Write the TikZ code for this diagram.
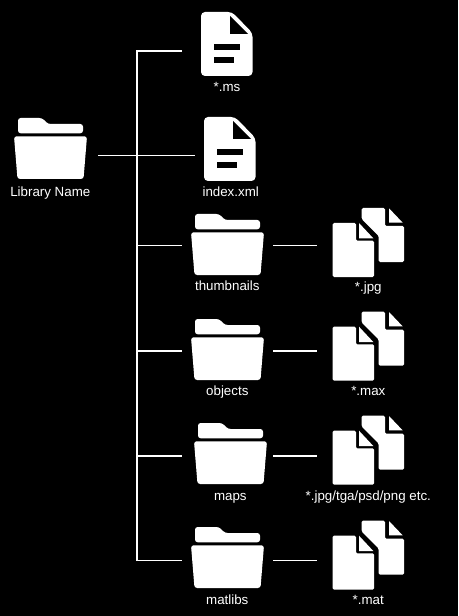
\documentclass[tikz,border=0pt]{standalone}
\usepackage{fontspec}
\setmainfont{Liberation Sans}
\tikzset{
  wire/.style={draw=white, line width=0.9pt},
  iconbox/.style={inner sep=0pt, minimum height=1pt, minimum width=#1*0.75pt},
  filetext/.style={text=white, anchor=base, inner sep=0pt, font=\fontsize{10}{12}\selectfont},
  folderpic/.pic={
    \fill[white, rounded corners=2pt] (4,15.3) -- (4,0) -- (28,0) -- (34,6) -- (69,6) -- (69,15.3) -- cycle;
    \fill[white, rounded corners=2pt] (0,18.3) -- (73,18.3) -- (69.5,61) -- (3.5,61) -- cycle;
  },
  docpic/.pic={
    \fill[white, rounded corners=3pt] (0,0) -- (31,0) -- (51.5,21) -- (51.5,64) -- (0,64) -- cycle;
    \fill[black] (29,4) -- (47,22) -- (29,22) -- cycle;
    \fill[black] (13,32) rectangle (39,38.5);
    \fill[black] (13,45) rectangle (32.5,51);
  },
  docspic/.pic={
    % back sheet
    \fill[white, rounded corners=1pt] (29,-15) -- (52.3,-15) -- (52.3,3) -- (71.3,3) -- (71.3,39) -- (46,39) -- (46,13) -- (29,-4) -- cycle;
    \fill[white] (56.3,-14.7) -- (70,-0.3) -- (56.3,-0.3) -- cycle;
    % front sheet
    \fill[white, rounded corners=1pt] (0,0) -- (23.3,0) -- (23.3,17.7) -- (41.3,17.7) -- (41.3,54) -- (0,54) -- cycle;
    \fill[white] (26.3,0) -- (40.6,15.3) -- (26.3,15.3) -- cycle;
  },
}

\begin{document}
\begin{tikzpicture}[x=0.75pt, y=-0.75pt]

% Background
\fill[black] (0,0) rectangle (458,616);
\useasboundingbox (0,0) rectangle (458,616);

% Root folder and files
\pic at (14,118) {folderpic};
\pic at (201,12) {docpic};
\pic at (204,117) {docpic};
\node[iconbox=95] (library) at (50.5,155.5) {};
\node[iconbox=89] (msfile) at (226.5,51) {};
\node[iconbox=61] (indexfile) at (225.5,155.5) {};
\node[filetext] (librarytext) at (50.3,196.5) {Library Name};
\node[filetext] (mstext) at (227,91.5) {*.ms};
\node[filetext] (indextext) at (230.7,196.7) {index.xml};

% Sub folders
\pic at (191,214) {folderpic};
\pic at (191,319) {folderpic};
\pic at (194,423) {folderpic};
\pic at (191,527) {folderpic};
\node[iconbox=91] (thumbnails) at (227.5,245.5) {};
\node[iconbox=91] (objects) at (227.5,351) {};
\node[iconbox=91] (maps) at (227.5,456) {};
\node[iconbox=91] (matlibs) at (227.5,560.7) {};
\node[filetext] (thumbnailstext) at (227.3,290.7) {thumbnails};
\node[filetext] (objectstext) at (227.3,395) {objects};
\node[filetext] (mapstext) at (230.3,500) {maps};
\node[filetext] (matlibstext) at (227.3,604) {matlibs};

% File groups
\pic at (332.7,223) {docspic};
\pic at (332.7,326.7) {docspic};
\pic at (332.7,430.7) {docspic};
\pic at (332.7,535.7) {docspic};
\node[iconbox=30] (jpgfiles) at (332.7,245.5) {};
\node[iconbox=30] (maxfiles) at (332.7,351) {};
\node[iconbox=30] (etcfiles) at (332.7,456) {};
\node[iconbox=30] (matfiles) at (332.7,560.7) {};
\node[filetext] (jpgtext) at (368.3,291.7) {*.jpg};
\node[filetext] (maxtext) at (368.3,395) {*.max};
\node[filetext] (etctext) at (368.3,500) {*.jpg/tga/psd/png etc.};
\node[filetext] (mattext) at (368.3,604) {*.mat};

% Trunk and branches
\coordinate (trunk) at (137,0);
\draw[wire] (msfile.west) -- (trunk |- msfile.west) -- (trunk |- matlibs.west) -- (matlibs.west);
\draw[wire] (library.east) -- (indexfile.west);
\draw[wire] (trunk |- thumbnails.west) -- (thumbnails.west);
\draw[wire] (trunk |- objects.west) -- (objects.west);
\draw[wire] (trunk |- maps.west) -- (maps.west);

% Folder to files
\draw[wire] (thumbnails.east) -- (jpgfiles.west);
\draw[wire] (objects.east) -- (maxfiles.west);
\draw[wire] (maps.east) -- (etcfiles.west);
\draw[wire] (matlibs.east) -- (matfiles.west);

\end{tikzpicture}
\end{document}
